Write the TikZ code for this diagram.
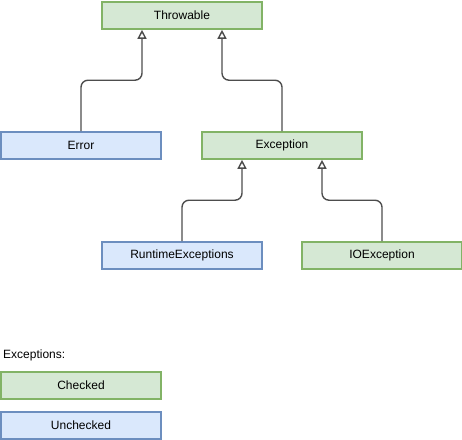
\documentclass[tikz,border=0pt]{standalone}
\usepackage{fontspec}
\setmainfont{Liberation Sans}
\usetikzlibrary{arrows.meta}
\definecolor{chkfill}{HTML}{D5E8D4}
\definecolor{chkdraw}{HTML}{82B366}
\definecolor{unchkfill}{HTML}{DAE8FC}
\definecolor{unchkdraw}{HTML}{6C8EBF}
\definecolor{linkgray}{HTML}{4D4D4D}

\begin{document}
\begin{tikzpicture}[x=1pt,y=-1pt,
    box/.style={rectangle,minimum width=160pt,minimum height=27pt,inner sep=0pt,
      line width=1.6pt,font=\fontsize{12}{14}\selectfont},
    checked/.style={box,fill=chkfill,draw=chkdraw},
    unchecked/.style={box,fill=unchkfill,draw=unchkdraw},
    inherit/.style={draw=linkgray,line width=1.4pt,rounded corners=7pt,
      -{Triangle[open,length=9pt,width=9pt]}}]
\useasboundingbox (0,0) rectangle (462,439);
% hierarchy
\node[checked]   (throwable) at (182,15.5)  {Throwable};
\node[unchecked] (error)     at (81,145.5)  {Error};
\node[checked]   (exception) at (282,145.5) {Exception};
\node[unchecked] (runtime)   at (182,255.5) {RuntimeExceptions};
\node[checked]   (ioexc)     at (382,255.5) {IOException};
\draw[inherit] (error.north) -- ++(0,-51) -| ([xshift=-40pt]throwable.south);
\draw[inherit] (exception.north) -- ++(0,-51) -| ([xshift=40pt]throwable.south);
\draw[inherit] (runtime.north) -- ++(0,-41) -| ([xshift=-40pt]exception.south);
\draw[inherit] (ioexc.north) -- ++(0,-41) -| ([xshift=40pt]exception.south);
% legend
\node[anchor=west,inner sep=0pt,font=\fontsize{12}{14}\selectfont] (legend) at (3,355) {Exceptions:};
\node[checked]   (chk)   at (81,385.5) {Checked};
\node[unchecked] (unchk) at (81,425.5) {Unchecked};
\end{tikzpicture}
\end{document}
